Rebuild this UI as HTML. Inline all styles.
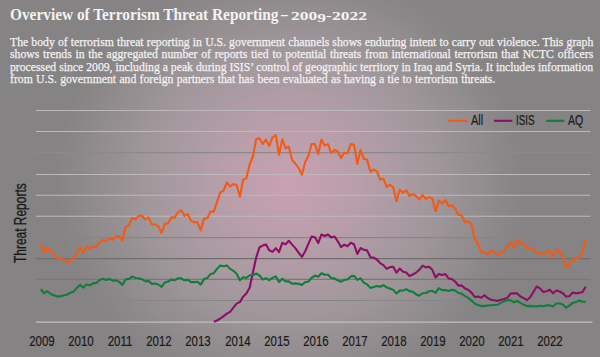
<!DOCTYPE html>
<html><head><meta charset="utf-8">
<style>
html,body{margin:0;padding:0;}
body{width:600px;height:357px;overflow:hidden;position:relative;
background:#858383;}
.bg{position:absolute;left:0;top:0;width:600px;height:357px;
background:radial-gradient(ellipse 235px 215px at 290px 182px, #c9a1b2 0%, #b79ea9 30%, #a0979b 62%, #858383 100%);}
.title{position:absolute;left:10px;top:5.2px;font:bold 16.5px "Liberation Serif",serif;color:#f4f2f3;white-space:nowrap;transform:scaleX(0.944);transform-origin:0 0;}
.para{position:absolute;left:10px;top:35.8px;width:637px;font:12.8px/12.5px "Liberation Serif",serif;color:#f4f2f3;-webkit-text-stroke:0.25px #f4f2f3;transform:scaleX(0.9156);transform-origin:0 0;}
.para div{text-align:justify;text-align-last:justify;white-space:nowrap;height:12.5px;}
.para div.last{text-align-last:left;word-spacing:0.37px;}
.lbl{position:absolute;font:15px "Liberation Sans",sans-serif;color:#1a1a1a;white-space:nowrap;transform-origin:0 0;-webkit-text-stroke:0.2px #1a1a1a;}
svg{position:absolute;left:0;top:0;}
</style></head><body>
<div class="bg"></div>
<div class="title" id="tA" style="left:10px;transform:scaleX(0.93)">Overview of Terrorism Threat Reporting</div>
<div class="title" id="tB" style="left:280.6px;transform:scaleX(0.8)">–</div>
<div class="title" id="tC" style="left:290.8px;top:7.6px;font-size:13px;transform:scaleX(1.35)">2<span style="position:relative;top:0">00</span><span style="position:relative;top:2.2px">9</span>-2022</div>
<div class="para">
<div>The body of terrorism threat reporting in U.S. government channels shows enduring intent to carry out violence. This graph</div>
<div>shows trends in the aggregated number of reports tied to potential threats from international terrorism that NCTC officers</div>
<div>processed since 2009, including a peak during ISIS’ control of geographic territory in Iraq and Syria. It includes information</div>
<div class="last">from U.S. government and foreign partners that has been evaluated as having a tie to terrorism threats.</div>
</div>
<svg width="600" height="357" viewBox="0 0 600 357">
<line x1="35.8" x2="590.5" y1="110.4" y2="110.4" stroke="#bdb9bb" stroke-width="1.05"/><line x1="35.8" x2="590.5" y1="131.4" y2="131.4" stroke="#bdb9bb" stroke-width="1.05"/><line x1="35.8" x2="590.5" y1="174.4" y2="174.4" stroke="#bdb9bb" stroke-width="1.05"/><line x1="35.8" x2="590.5" y1="195.2" y2="195.2" stroke="#bdb9bb" stroke-width="1.05"/><line x1="35.8" x2="590.5" y1="216.3" y2="216.3" stroke="#bdb9bb" stroke-width="1.05"/><line x1="35.8" x2="590.5" y1="152.6" y2="152.6" stroke="#8b898a" stroke-width="1.2"/><line x1="35.8" x2="590.5" y1="237.6" y2="237.6" stroke="#878586" stroke-width="1.2"/><line x1="35.8" x2="590.5" y1="258.6" y2="258.6" stroke="#706e6f" stroke-width="1.2"/><line x1="35.8" x2="590.5" y1="279.4" y2="279.4" stroke="#797778" stroke-width="1.2"/><line x1="35.8" x2="590.5" y1="300.5" y2="300.5" stroke="#878586" stroke-width="1.2"/><line x1="35.8" x2="592.5" y1="322" y2="322" stroke="#c2bfc0" stroke-width="1.25"/>
<polyline fill="none" stroke="#f25a16" stroke-width="2.1" stroke-linejoin="round" points="40.9,243.9 44.2,252.8 47.4,247.6 50.7,252.8 53.9,253.5 57.2,258.2 60.5,258.8 63.7,259.9 67.0,262.8 70.3,259.5 73.5,259.2 76.8,252.8 80.0,247.5 83.3,253.3 86.6,246.0 89.8,248.7 93.1,246.5 96.4,247.0 99.6,242.2 102.9,240.0 106.1,241.4 109.4,238.0 112.7,239.7 115.9,236.2 119.2,236.2 122.4,240.5 125.7,226.8 129.0,225.0 132.2,218.0 135.5,219.4 138.8,215.6 142.0,215.7 145.3,219.5 148.5,217.3 151.8,224.3 155.1,224.6 158.3,226.2 161.6,233.0 164.9,223.9 168.1,223.2 171.4,217.4 174.6,217.8 177.9,212.2 181.2,210.2 184.4,215.8 187.7,213.9 191.0,220.8 194.2,222.3 197.5,222.3 200.7,230.4 204.0,218.6 207.3,218.3 210.5,211.6 213.8,211.6 217.0,201.8 220.3,192.5 223.6,190.5 226.8,182.4 230.1,186.5 233.4,184.1 236.6,184.7 239.9,196.8 243.1,180.0 246.4,178.2 249.7,164.5 252.9,156.5 256.2,139.3 259.5,138.2 262.7,144.0 266.0,139.6 269.2,146.0 272.5,137.3 275.8,135.0 279.0,154.7 282.3,139.4 285.6,148.3 288.8,146.5 292.1,160.0 295.3,163.5 298.6,168.0 301.9,174.5 305.1,162.4 308.4,155.7 311.6,144.0 314.9,144.0 318.2,154.2 321.4,139.8 324.7,145.6 328.0,144.1 331.2,152.9 334.5,149.8 337.7,151.5 341.0,158.0 344.3,152.7 347.5,153.3 350.8,143.9 354.1,145.1 357.3,163.9 360.6,149.8 363.8,158.8 367.1,159.8 370.4,171.8 373.6,169.6 376.9,171.4 380.1,179.6 383.4,178.8 386.7,186.8 389.9,184.7 393.2,187.3 396.5,201.3 399.7,189.7 403.0,192.9 406.2,190.0 409.5,195.9 412.8,194.1 416.0,196.0 419.3,199.5 422.6,195.2 425.8,198.8 429.1,197.1 432.3,198.8 435.6,211.2 438.9,200.6 442.1,203.5 445.4,200.0 448.6,206.2 451.9,205.5 455.2,208.7 458.4,214.8 461.7,215.4 465.0,222.4 468.2,221.5 471.5,224.4 474.7,238.8 478.0,243.8 481.3,252.1 484.5,252.6 487.8,255.0 491.1,250.9 494.3,251.8 497.6,255.6 500.8,252.6 504.1,251.5 507.4,246.2 510.6,242.4 513.9,247.6 517.2,240.1 520.4,243.2 523.7,243.6 526.9,249.0 530.2,247.6 533.5,249.1 536.7,253.3 540.0,252.9 543.2,254.7 546.5,251.8 549.8,250.9 553.0,257.1 556.3,249.4 559.6,251.8 562.8,256.5 566.1,267.6 569.3,265.3 572.6,259.4 575.9,259.4 579.1,257.3 582.4,252.9 585.7,239.4"/>
<polyline fill="none" stroke="#8d0e67" stroke-width="2.1" stroke-linejoin="round" points="213.8,321.7 217.0,320.5 220.3,318.5 223.6,316.2 226.8,313.6 230.1,311.8 233.4,307.6 236.6,303.6 239.9,302.1 243.1,296.7 246.4,293.4 249.7,287.5 252.9,272.5 256.2,257.5 259.5,247.2 262.7,245.6 266.0,244.4 269.2,250.2 272.5,251.9 275.8,248.2 279.0,252.2 282.3,242.8 285.6,244.4 288.8,240.8 292.1,244.6 295.3,248.1 298.6,252.6 301.9,256.9 305.1,251.5 308.4,243.9 311.6,236.6 314.9,237.3 318.2,243.1 321.4,234.5 324.7,236.0 328.0,234.5 331.2,237.4 334.5,236.5 337.7,241.2 341.0,247.1 344.3,244.7 347.5,246.2 350.8,242.7 354.1,244.5 357.3,253.9 360.6,248.0 363.8,249.8 367.1,250.4 370.4,257.2 373.6,257.6 376.9,259.5 380.1,263.1 383.4,265.1 386.7,268.9 389.9,267.1 393.2,266.8 396.5,272.7 399.7,268.6 403.0,271.8 406.2,272.5 409.5,276.0 412.8,274.5 416.0,272.7 419.3,269.8 422.6,265.6 425.8,267.4 429.1,266.8 432.3,269.8 435.6,277.5 438.9,274.1 442.1,275.0 445.4,274.0 448.6,278.5 451.9,279.1 455.2,281.5 458.4,285.6 461.7,285.4 465.0,288.5 468.2,289.8 471.5,292.6 474.7,297.0 478.0,296.6 481.3,297.8 484.5,295.2 487.8,298.2 491.1,299.7 494.3,300.3 497.6,300.9 500.8,299.7 504.1,299.1 507.4,297.8 510.6,293.5 513.9,293.2 517.2,293.4 520.4,296.5 523.7,298.1 526.9,300.2 530.2,297.2 533.5,291.7 536.7,286.5 540.0,288.4 543.2,292.0 546.5,291.2 549.8,289.7 553.0,293.3 556.3,290.6 559.6,291.5 562.8,293.2 566.1,296.5 569.3,296.3 572.6,292.6 575.9,293.3 579.1,292.9 582.4,292.1 585.7,286.8"/>
<polyline fill="none" stroke="#107d3d" stroke-width="2.1" stroke-linejoin="round" points="40.9,289.3 44.2,293.2 47.4,291.2 50.7,294.0 53.9,295.2 57.2,296.4 60.5,296.4 63.7,295.2 67.0,294.7 70.3,292.8 73.5,291.6 76.8,288.1 80.0,284.9 83.3,287.6 86.6,284.4 89.8,285.3 93.1,283.4 96.4,282.9 99.6,279.9 102.9,278.8 106.1,280.0 109.4,278.9 112.7,280.6 115.9,280.4 119.2,281.8 122.4,285.1 125.7,279.2 129.0,278.9 132.2,276.6 135.5,278.0 138.8,278.2 142.0,279.2 145.3,281.3 148.5,280.9 151.8,283.9 155.1,283.6 158.3,284.5 161.6,286.8 164.9,282.4 168.1,281.6 171.4,279.6 174.6,280.3 177.9,278.3 181.2,278.3 184.4,280.3 187.7,279.7 191.0,282.1 194.2,282.1 197.5,281.8 200.7,284.6 204.0,279.1 207.3,277.9 210.5,274.1 213.8,273.2 217.0,268.9 220.3,265.4 223.6,266.2 226.8,265.4 230.1,268.9 233.4,270.8 236.6,273.8 239.9,280.2 243.1,277.3 246.4,277.9 249.7,275.2 252.9,275.2 256.2,273.5 259.5,275.5 262.7,279.4 266.0,278.2 269.2,280.2 272.5,277.9 275.8,276.4 279.0,282.0 282.3,278.7 285.6,281.4 288.8,281.4 292.1,283.8 295.3,283.4 298.6,283.8 301.9,285.0 305.1,282.3 308.4,281.5 311.6,277.9 314.9,275.6 318.2,276.8 321.4,273.2 324.7,274.8 328.0,274.8 331.2,277.9 334.5,278.5 337.7,280.3 341.0,281.8 344.3,279.9 347.5,279.5 350.8,276.4 354.1,275.9 357.3,279.9 360.6,278.3 363.8,282.6 367.1,284.4 370.4,287.9 373.6,287.1 376.9,285.9 380.1,286.8 383.4,285.2 386.7,287.4 389.9,288.5 393.2,289.9 396.5,293.5 399.7,290.6 403.0,290.6 406.2,289.1 409.5,291.1 412.8,291.8 416.0,294.2 419.3,295.8 422.6,293.2 425.8,293.0 429.1,291.3 432.3,290.8 435.6,292.9 438.9,288.2 442.1,290.1 445.4,290.0 448.6,291.0 451.9,289.7 455.2,290.6 458.4,293.0 461.7,293.6 465.0,296.1 468.2,297.9 471.5,300.6 474.7,303.6 478.0,305.0 481.3,306.1 484.5,305.9 487.8,305.5 491.1,305.2 494.3,305.0 497.6,304.8 500.8,302.9 504.1,301.2 507.4,300.3 510.6,300.0 513.9,302.4 517.2,300.8 520.4,302.8 523.7,304.7 526.9,306.1 530.2,305.9 533.5,306.2 536.7,306.5 540.0,305.8 543.2,306.2 546.5,305.4 549.8,305.4 553.0,306.5 556.3,303.5 559.6,303.5 562.8,304.4 566.1,307.7 569.3,305.6 572.6,302.9 575.9,302.1 579.1,300.6 582.4,301.8 585.7,301.8"/>
<line x1="448" x2="467.7" y1="120.8" y2="120.8" stroke="#f25a16" stroke-width="2.1"/>
<line x1="494" x2="512.4" y1="120.8" y2="120.8" stroke="#8d0e67" stroke-width="2.1"/>
<line x1="546.3" x2="564.3" y1="120.8" y2="120.8" stroke="#107d3d" stroke-width="2.1"/>
</svg>
<div class="lbl" id="lAll" style="left:470.8px;top:111px;transform:scaleX(0.73)">All</div>
<div class="lbl" id="lISIS" style="left:516px;top:111px;transform:scaleX(0.655)">ISIS</div>
<div class="lbl" id="lAQ" style="left:568px;top:111px;transform:scaleX(0.70)">AQ</div>
<div class="lbl" id="ylab" style="left:11.2px;top:262.5px;transform:rotate(-90deg) scaleX(0.72);font-size:16.6px;-webkit-text-stroke:0.35px #1a1a1a;">Threat Reports</div>
<div class="lbl yr" style="left:12.15px;width:60px;text-align:center;transform-origin:30px 0;transform:scaleX(0.77);top:332.8px;font-size:14.9px;">2009</div>
<div class="lbl yr" style="left:51.23px;width:60px;text-align:center;transform-origin:30px 0;transform:scaleX(0.77);top:332.8px;font-size:14.9px;">2010</div>
<div class="lbl yr" style="left:90.31px;width:60px;text-align:center;transform-origin:30px 0;transform:scaleX(0.77);top:332.8px;font-size:14.9px;">2011</div>
<div class="lbl yr" style="left:129.39px;width:60px;text-align:center;transform-origin:30px 0;transform:scaleX(0.77);top:332.8px;font-size:14.9px;">2012</div>
<div class="lbl yr" style="left:168.47px;width:60px;text-align:center;transform-origin:30px 0;transform:scaleX(0.77);top:332.8px;font-size:14.9px;">2013</div>
<div class="lbl yr" style="left:207.55px;width:60px;text-align:center;transform-origin:30px 0;transform:scaleX(0.77);top:332.8px;font-size:14.9px;">2014</div>
<div class="lbl yr" style="left:246.63px;width:60px;text-align:center;transform-origin:30px 0;transform:scaleX(0.77);top:332.8px;font-size:14.9px;">2015</div>
<div class="lbl yr" style="left:285.71px;width:60px;text-align:center;transform-origin:30px 0;transform:scaleX(0.77);top:332.8px;font-size:14.9px;">2016</div>
<div class="lbl yr" style="left:324.79px;width:60px;text-align:center;transform-origin:30px 0;transform:scaleX(0.77);top:332.8px;font-size:14.9px;">2017</div>
<div class="lbl yr" style="left:363.87px;width:60px;text-align:center;transform-origin:30px 0;transform:scaleX(0.77);top:332.8px;font-size:14.9px;">2018</div>
<div class="lbl yr" style="left:402.95px;width:60px;text-align:center;transform-origin:30px 0;transform:scaleX(0.77);top:332.8px;font-size:14.9px;">2019</div>
<div class="lbl yr" style="left:442.03px;width:60px;text-align:center;transform-origin:30px 0;transform:scaleX(0.77);top:332.8px;font-size:14.9px;">2020</div>
<div class="lbl yr" style="left:481.11px;width:60px;text-align:center;transform-origin:30px 0;transform:scaleX(0.77);top:332.8px;font-size:14.9px;">2021</div>
<div class="lbl yr" style="left:520.19px;width:60px;text-align:center;transform-origin:30px 0;transform:scaleX(0.77);top:332.8px;font-size:14.9px;">2022</div>
</body></html>
